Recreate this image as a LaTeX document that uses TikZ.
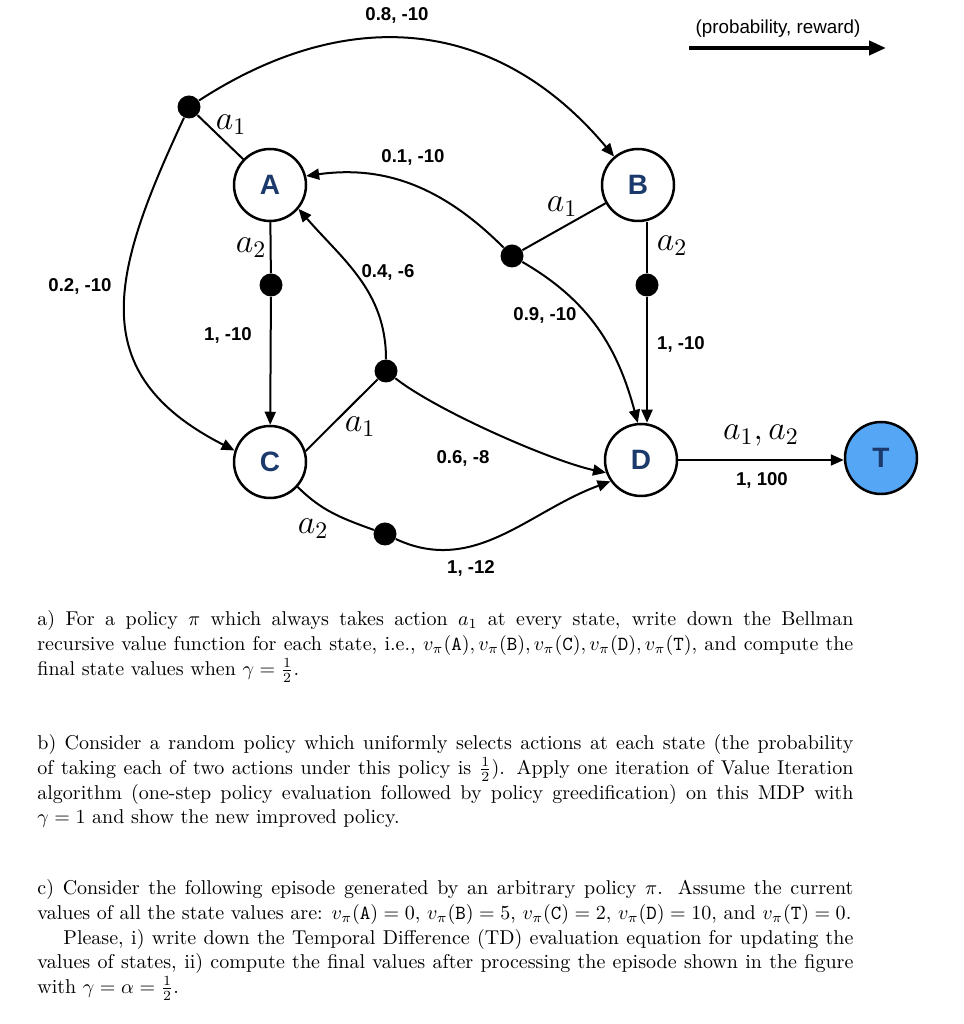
\documentclass[tikz,border=0pt]{standalone}
\usepackage{fix-cm}
\usepackage{fontspec}
\usepackage{amsmath}
\usetikzlibrary{arrows.meta}
\newfontfamily\diagfont{Liberation Sans}
\definecolor{navy}{HTML}{1B3A6B}
\definecolor{tblue}{HTML}{55A6F5}
\tikzset{
  st/.style={circle,draw,line width=1.25pt,minimum size=36pt,inner sep=0pt,fill=white,text=navy,font=\diagfont\bfseries\fontsize{14}{16}\selectfont},
  dot/.style={circle,fill=black,minimum size=11.5pt,inner sep=0pt},
  pr/.style={inner sep=1pt,font=\diagfont\bfseries\fontsize{9.3}{11}\selectfont},
  act/.style={inner sep=0pt,font=\fontsize{17}{20}\selectfont},
  ln/.style={line width=1pt},
  ar/.style={-{Triangle[length=6.5pt,width=5.5pt]},line width=1pt},
  txt/.style={anchor=base west,inner sep=0pt,align=left,font=\fontsize{10}{12.3}\selectfont},
}

\begin{document}
\begin{tikzpicture}[x=0.5pt,y=0.5pt]
\useasboundingbox (0,0) rectangle (964,1024);

\node[st] (A) at (270,839) {A};
\node[st] (B) at (638,839) {B};
\node[st] (C) at (270,562) {C};
\node[st] (D) at (641,564) {D};
\node[st,fill=tblue] (T) at (881,566) {T};

\node[dot] (dA1) at (189,917) {};
\node[dot] (dA2) at (271,739) {};
\node[dot] (dB1) at (512,768) {};
\node[dot] (dB2) at (647,739) {};
\node[dot] (dC1) at (386,653) {};
\node[dot] (dC2) at (385,490) {};

\draw[ln] (A) -- (dA1);
\draw[ar] (dA1) to[out=33,in=130,looseness=1.1] (B);
\draw[ar] (dA1) to[out=245,in=153,looseness=1.3] (C.162);
\draw[ln] (A) -- (dA2);
\draw[ar] (dA2) -- (C);
\draw[ln] (B) -- (dB1);
\draw[ar] (dB1) to[out=135,in=8] (A.14);
\draw[ar] (dB1) to[out=-30,in=105] (D.95);
\draw[ln] (dB2 |- B.south) -- (dB2);
\draw[ar] (dB2) -- (dB2 |- D.north);
\draw[ln] (C.17) -- (dC1);
\draw[ar] (dC1) to[out=90,in=-49] (A.-40);
\draw[ar] (dC1) to[out=-38,in=168,looseness=0.6] (D.200);
\draw[ln] (C.-42) to[out=-45,in=160] (dC2);
\draw[ar] (dC2) to[out=-25,in=200] (D.215);
\draw[ar] (D.east) -- (D.east -| T.west);

\node[act] (la1A) at (231,899) {$a_1$};
\node[act] (la2A) at (251,776) {$a_2$};
\node[act] (la1B) at (562,817) {$a_1$};
\node[act] (la2B) at (672,778) {$a_2$};
\node[act] (la1C) at (360,597) {$a_1$};
\node[act] (la2C) at (313,495) {$a_2$};
\node[act] (laD) at (761,589) {$a_1, a_2$};

\node[pr] (pAB) at (397,1009) {0.8, -10};
\node[pr] (pAC) at (80,738) {0.2, -10};
\node[pr] (pAC2) at (228,689) {1, -10};
\node[pr] (pBA) at (413,867) {0.1, -10};
\node[pr] (pBD) at (545,709) {0.9, -10};
\node[pr] (pBD2) at (681,680) {1, -10};
\node[pr] (pCA) at (388,752) {0.4, -6};
\node[pr] (pCD) at (463,566) {0.6, -8};
\node[pr] (pCD2) at (471,456) {1, -12};
\node[pr] (pDT) at (762,544) {1, 100};

\coordinate (kL) at (689,976);
\coordinate (kR) at (886,976);
\draw[-{Triangle[length=8.5pt,width=7pt]},line width=2pt] (kL) -- (kR);
\node[font=\diagfont\fontsize{9.4}{11}\selectfont] (key) at (778,995) {(probability, reward)};

\node[txt] (qa) at (37,398) {\parbox[t]{408pt}{a) For a policy $\pi$ which always takes action $a_1$ at every state, write down the Bellman\linebreak recursive value function for each state, i.e., $v_\pi(\texttt{A}), v_\pi(\texttt{B}), v_\pi(\texttt{C}), v_\pi(\texttt{D}), v_\pi(\texttt{T})$, and compute the\linebreak final state values when $\gamma=\frac{1}{2}$.}};
\node[txt] (qb) at (37,274) {\parbox[t]{408pt}{b) Consider a random policy which uniformly selects actions at each state (the probability of taking each of two actions under this policy is $\frac{1}{2}$). Apply one iteration of Value Iteration algorithm (one-step policy evaluation followed by policy greedification) on this MDP with $\gamma=1$ and show the new improved policy.}};
\node[txt] (qc) at (37,129) {\parbox[t]{408pt}{c) Consider the following episode generated by an arbitrary policy $\pi$. Assume the current values of all the state values are: $v_\pi(\texttt{A})=0$, $v_\pi(\texttt{B})=5$, $v_\pi(\texttt{C})=2$, $v_\pi(\texttt{D})=10$, and $v_\pi(\texttt{T})=0$.\par\hspace*{13pt}Please, i) write down the Temporal Difference (TD) evaluation equation for updating the values of states, ii) compute the final values after processing the episode shown in the figure with $\gamma=\alpha=\frac{1}{2}$.}};
\end{tikzpicture}
\end{document}
